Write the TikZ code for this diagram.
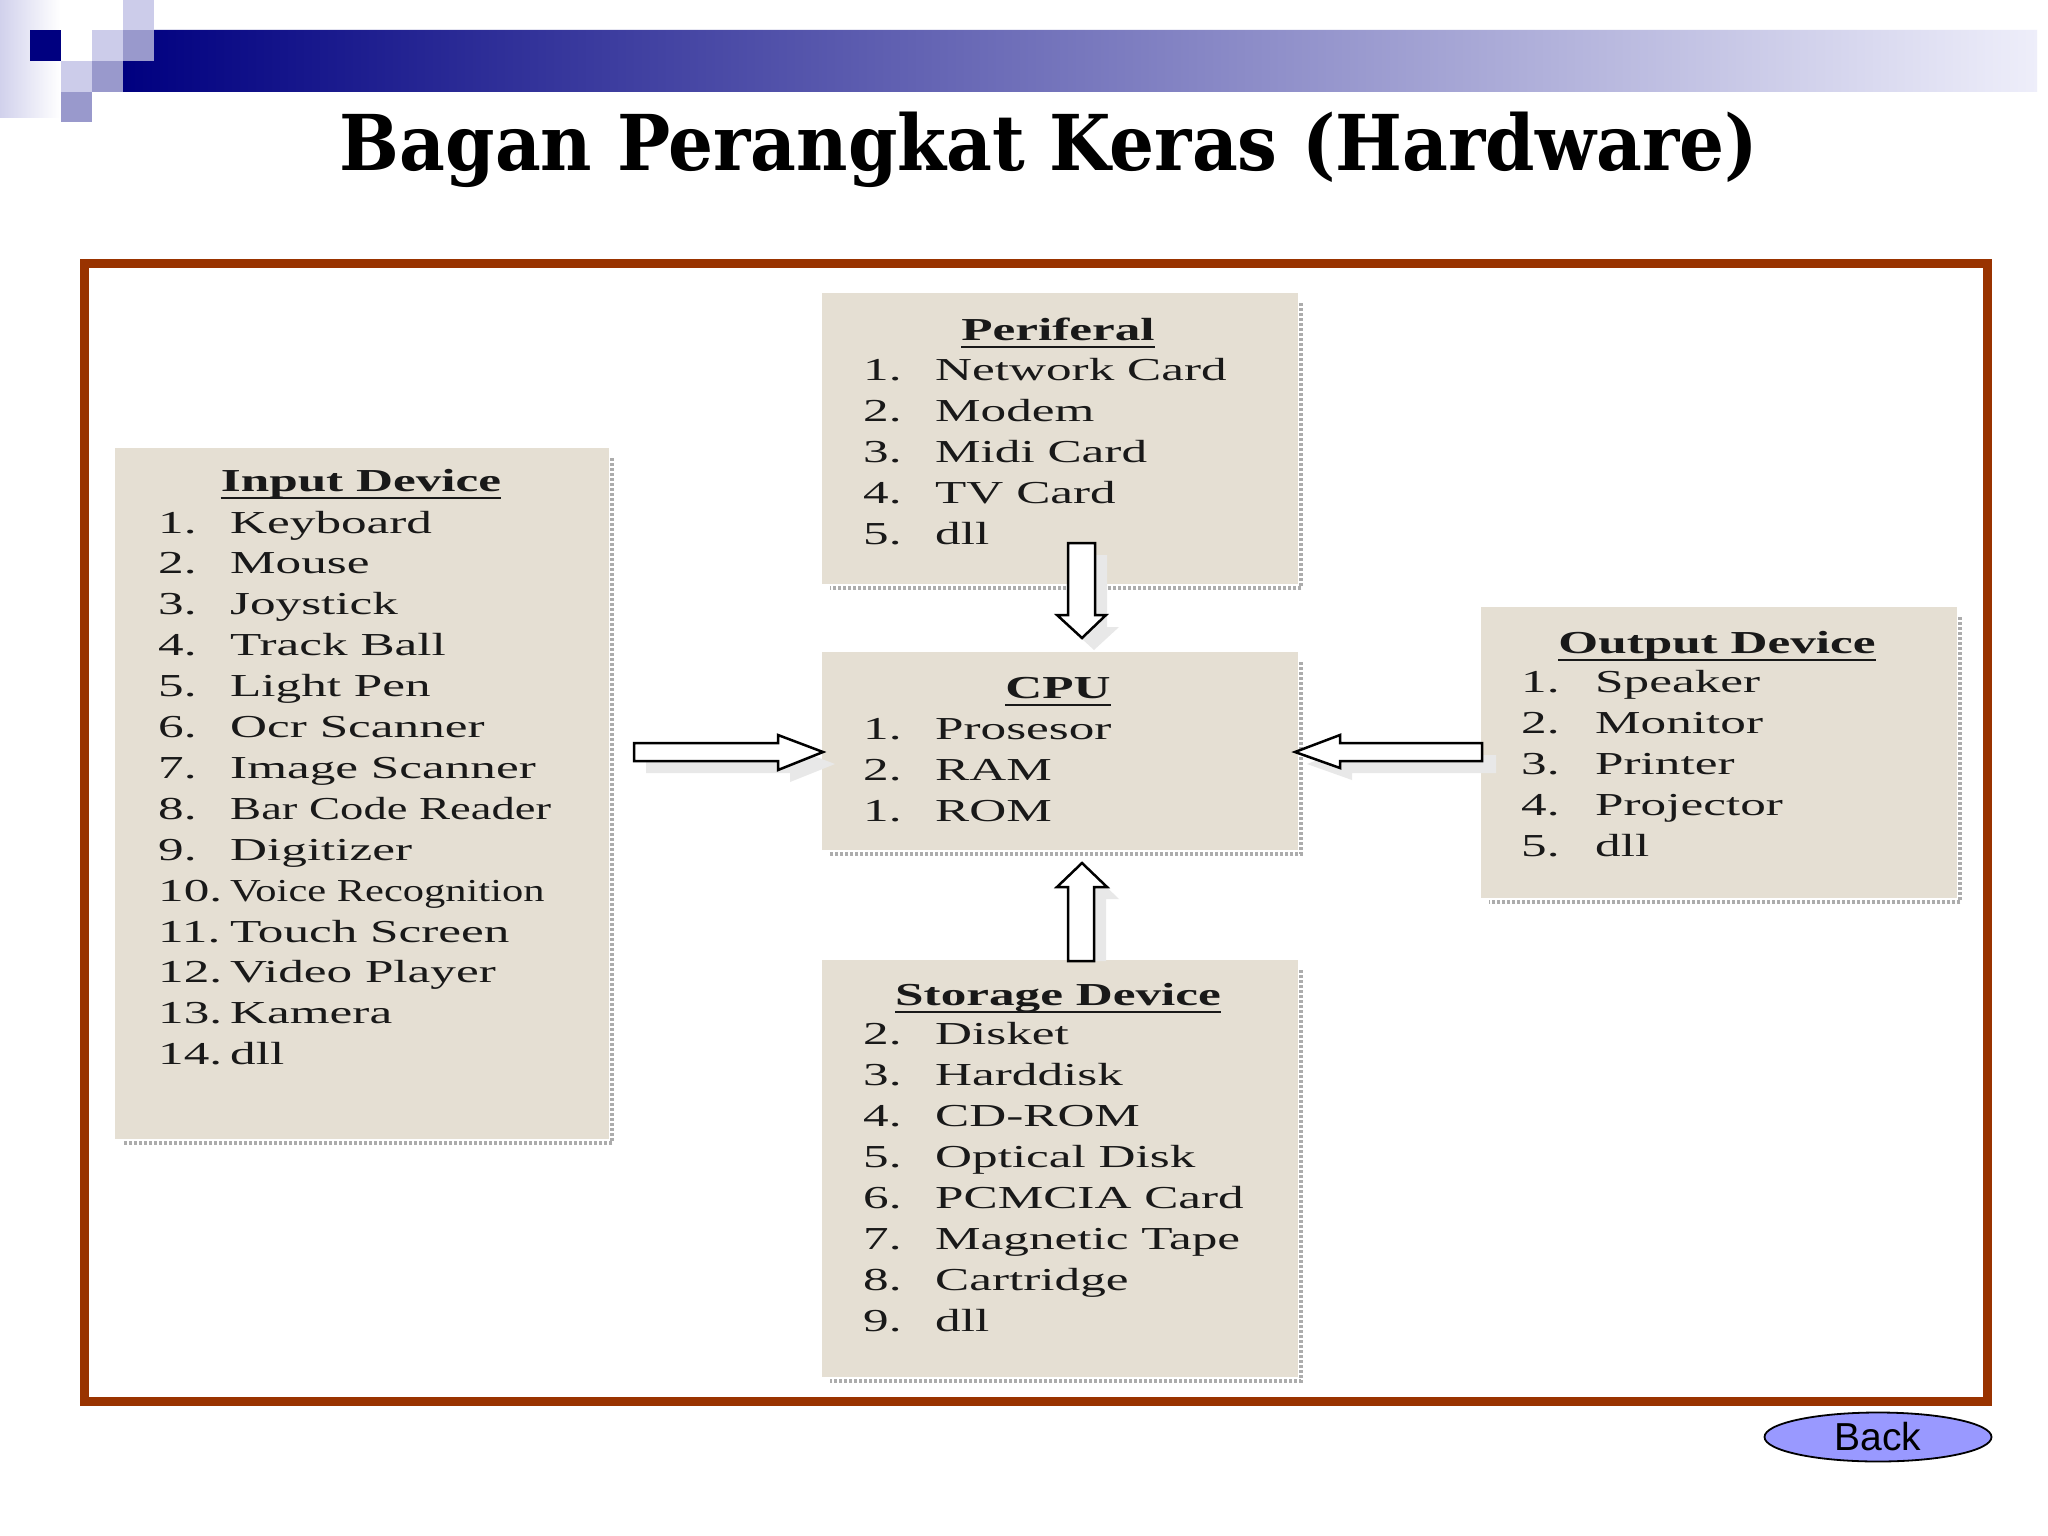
\documentclass[tikz,border=0pt]{standalone}
\usepackage{fontspec}
\usepackage{graphicx}
\usetikzlibrary{shapes.geometric}
\setmainfont{Liberation Serif}
\newfontfamily\titlefont{DejaVu Serif}
\newfontfamily\sansf{Liberation Sans}
\definecolor{navy}{RGB}{0,0,128}
\definecolor{lightsq}{RGB}{204,204,234}
\definecolor{medsq}{RGB}{153,153,204}
\definecolor{barend}{RGB}{238,238,250}
\definecolor{framec}{RGB}{153,51,0}
\definecolor{beige}{RGB}{229,223,211}
\definecolor{backblue}{RGB}{153,153,255}
\definecolor{inkc}{RGB}{25,25,25}
\newcommand{\wtext}[1]{\scalebox{1.6}[1]{#1}}
\tikzset{
  boxc/.style={fill=beige, draw=none, anchor=north west, inner sep=0pt},
  itemc/.style={inner sep=0pt, text=inkc, font=\fontsize{32}{32}\selectfont},
  headc/.style={inner sep=0pt, text=inkc, anchor=base, font=\fontsize{32}{32}\selectfont\bfseries},
  shadowc/.style={draw=gray!65, line width=4pt, dash pattern=on 3pt off 2pt},
  ularrow/.style={fill=white, draw=black, line width=2.5pt, line join=miter},
  arshadow/.style={fill=gray!18, draw=none},
}
\newcommand{\boxshadow}[1]{%
  \draw[shadowc] ([xshift=3pt,yshift=-10pt]#1.north east) -- ([xshift=3pt,yshift=-3.5pt]#1.south east) -- ([xshift=8pt,yshift=-3.5pt]#1.south west);}
\newcommand{\headline}[1]{%
  \draw[line width=2.6pt, inkc] ([yshift=-7pt]#1.base west) -- ([yshift=-7pt]#1.base east);}
\begin{document}
\begin{tikzpicture}[x=1pt,y=-1pt]
\useasboundingbox (0,0) rectangle (2048,1536);
\fill[white] (0,0) rectangle (2048,1536);
% top decoration
\shade[left color=lightsq!90, right color=white] (0,0) rectangle (60,118);
\shade[left color=navy, right color=barend] (154,30) -- (2037,30) -- (2037,92) -- (123,92) -- (123,61) -- (154,61) -- cycle;
\fill[navy] (30,30) rectangle (61,61);
\fill[lightsq] (123,0) rectangle (154,30);
\fill[lightsq] (92,30) rectangle (123,61);
\fill[medsq] (123,30) rectangle (154,61);
\fill[lightsq] (61,61) rectangle (92,92);
\fill[medsq] (92,61) rectangle (123,92);
\fill[medsq] (61,92) rectangle (92,122);
% title
\node[anchor=base, inner sep=0pt] (title) at (1049,171) {\titlefont\bfseries\fontsize{77}{80}\selectfont\resizebox{1418pt}{\height}{Bagan Perangkat Keras (Hardware)}};
% frame
\draw[framec, line width=9pt] (84.5,263.5) rectangle (1987.5,1401);
% boxes
\node[boxc, minimum width=494pt, minimum height=691pt] (inp) at (115,448) {};
\node[boxc, minimum width=476pt, minimum height=291pt] (per) at (822,293) {};
\node[boxc, minimum width=476pt, minimum height=198pt] (cpu) at (822,652) {};
\node[boxc, minimum width=476pt, minimum height=291pt] (out) at (1481,607) {};
\node[boxc, minimum width=476pt, minimum height=417pt] (sto) at (822,960) {};
\boxshadow{inp}\boxshadow{per}\boxshadow{cpu}\boxshadow{out}\boxshadow{sto}
% Input Device
\node[headc] (inp-t) at (361,491) {\wtext{Input Device}};
\headline{inp-t}
\foreach \n/\t [count=\i] in {1./Keyboard,2./Mouse,3./Joystick,4./Track Ball,5./Light Pen,6./Ocr Scanner,7./Image Scanner,8./{\scalebox{0.91}[1]{Bar Code Reader}},9./Digitizer,10./{\scalebox{0.83}[1]{Voice Recognition}},11./Touch Screen,12./Video Player,13./Kamera,14./dll}{
  \node[itemc, anchor=base west] (inp-n\i) at (158,{533+40.9*(\i-1)}) {\wtext{\n}};
  \node[itemc, anchor=base west] (inp-i\i) at (230,{533+40.9*(\i-1)}) {\wtext{\t}};
}
% Periferal
\node[headc] (per-t) at (1058,340) {\wtext{Periferal}};
\headline{per-t}
\foreach \n/\t [count=\i] in {1./Network Card,2./Modem,3./Midi Card,4./TV Card,5./dll}{
  \node[itemc, anchor=base west] (per-n\i) at (863,{380+41.2*(\i-1)}) {\wtext{\n}};
  \node[itemc, anchor=base west] (per-i\i) at (935,{380+41.2*(\i-1)}) {\wtext{\t}};
}
% CPU
\node[headc] (cpu-t) at (1058,698) {\wtext{CPU}};
\headline{cpu-t}
\foreach \n/\t [count=\i] in {1./Prosesor,2./RAM,1./ROM}{
  \node[itemc, anchor=base west] (cpu-n\i) at (863,{739+41*(\i-1)}) {\wtext{\n}};
  \node[itemc, anchor=base west] (cpu-i\i) at (935,{739+41*(\i-1)}) {\wtext{\t}};
}
% Output Device
\node[headc] (out-t) at (1717,653) {\wtext{Output Device}};
\headline{out-t}
\foreach \n/\t [count=\i] in {1./Speaker,2./Monitor,3./Printer,4./Projector,5./dll}{
  \node[itemc, anchor=base west] (out-n\i) at (1521,{692+41*(\i-1)}) {\wtext{\n}};
  \node[itemc, anchor=base west] (out-i\i) at (1595,{692+41*(\i-1)}) {\wtext{\t}};
}
% Storage Device
\node[headc] (sto-t) at (1058,1005) {\wtext{Storage Device}};
\headline{sto-t}
\foreach \n/\t [count=\i] in {2./Disket,3./Harddisk,4./CD-ROM,5./Optical Disk,6./PCMCIA Card,7./Magnetic Tape,8./Cartridge,9./dll}{
  \node[itemc, anchor=base west] (sto-n\i) at (863,{1044+41*(\i-1)}) {\wtext{\n}};
  \node[itemc, anchor=base west] (sto-i\i) at (935,{1044+41*(\i-1)}) {\wtext{\t}};
}
% block arrows
% Input -> CPU
\fill[arshadow] (646,755) -- (790,755) -- (790,747) -- (835,764) -- (790,782) -- (790,773) -- (646,773) -- cycle;
\draw[ularrow] (634,743) -- (778,743) -- (778,735) -- (823,752) -- (778,770) -- (778,761) -- (634,761) -- cycle;
% Output -> CPU
\fill[arshadow] (1496,755) -- (1352,755) -- (1352,747) -- (1307,764) -- (1352,780) -- (1352,773) -- (1496,773) -- cycle;
\draw[ularrow] (1482,743) -- (1340,743) -- (1340,735) -- (1295,752) -- (1340,768) -- (1340,761) -- (1482,761) -- cycle;
% Periferal -> CPU
\fill[arshadow] (1080,555) -- (1107,555) -- (1107,627) -- (1119,627) -- (1094,650) -- (1069,627) -- (1080,627) -- cycle;
\draw[ularrow] (1068,543) -- (1095,543) -- (1095,615) -- (1106,615) -- (1082,638) -- (1057,615) -- (1068,615) -- cycle;
% Storage -> CPU
\fill[arshadow] (1080,961) -- (1106,961) -- (1106,899) -- (1119,899) -- (1094,875) -- (1069,899) -- (1080,899) -- cycle;
\draw[ularrow] (1068,961) -- (1094,961) -- (1094,887) -- (1107,887) -- (1082,863) -- (1057,887) -- (1068,887) -- cycle;
% Back button
\node[ellipse, draw=black, line width=1.8pt, fill=backblue, minimum width=227pt, minimum height=49pt, inner sep=0pt] (back) at (1878,1437) {\sansf\fontsize{39}{39}\selectfont Back};
\end{tikzpicture}
\end{document}
